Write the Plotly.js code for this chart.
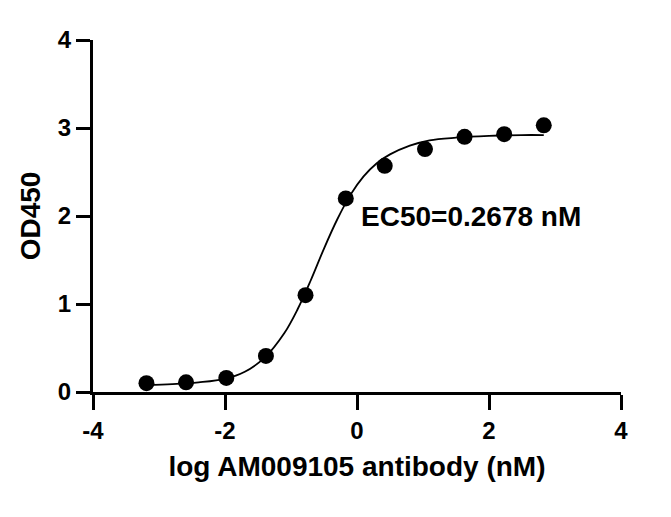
<!DOCTYPE html>
<html>
<head>
<meta charset="utf-8">
<script src="https://cdn.plot.ly/plotly-3.0.1.min.js"></script>
<style>html,body{margin:0;padding:0;background:#fff;}#chart{width:671px;height:517px;}</style>
</head>
<body>
<div id="chart"></div>
<script>
// Measured points: log concentration (nM) vs OD450
var logConc = [-3.19, -2.59, -1.98, -1.38, -0.78, -0.17, 0.42, 1.03, 1.63, 2.23, 2.83];
var od450 = [0.10, 0.11, 0.16, 0.41, 1.10, 2.20, 2.57, 2.76, 2.90, 2.93, 3.03];

// Fitted curve
var curveX = [-3.19, -2.8, -2.4, -2.0, -1.7, -1.4, -1.1, -0.9, -0.7, -0.5, -0.3, -0.1, 0.1, 0.3, 0.5, 0.8, 1.1, 1.5, 2.0, 2.5, 2.83];
var curveY = [0.08, 0.09, 0.11, 0.15, 0.23, 0.39, 0.67, 0.94, 1.27, 1.63, 1.96, 2.24, 2.45, 2.60, 2.70, 2.80, 2.86, 2.89, 2.91, 2.92, 2.92];

var xTicks = [-4, -2, 0, 2, 4];
var yTicks = [0, 1, 2, 3, 4];
var ec50Label = "EC50=0.2678 nM";

var FONT = "Liberation Sans, Arial, sans-serif";

var traces = [
  {x: curveX, y: curveY, mode: "lines", type: "scatter", line: {color: "#000", width: 1.8, shape: "spline"}, hoverinfo: "skip", cliponaxis: false},
  {x: logConc, y: od450, mode: "markers", type: "scatter", marker: {color: "#000", size: 16}, cliponaxis: false}
];

var layout = {
  width: 671, height: 517,
  margin: {l: 93, r: 50, t: 40, b: 125},
  paper_bgcolor: "#fff", plot_bgcolor: "#fff",
  showlegend: false,
  font: {family: FONT, color: "#000", size: 24, weight: "bold"},
  xaxis: {
    range: [-4, 4], tickvals: xTicks, ticktext: xTicks.map(String),
    showgrid: false, zeroline: false, showline: true, linecolor: "#000", linewidth: 3,
    ticks: "outside", ticklen: 15, tickwidth: 3, tickcolor: "#000",
    tickfont: {family: FONT, size: 24, color: "#000", weight: "bold"},
    title: {text: "log AM009105 antibody (nM)", font: {family: FONT, size: 28, color: "#000", weight: "bold"}, standoff: 14},
    fixedrange: true
  },
  yaxis: {
    range: [0, 4], tickvals: yTicks, ticktext: yTicks.map(String),
    showgrid: false, zeroline: false, showline: true, linecolor: "#000", linewidth: 3,
    ticks: "outside", ticklen: 14, tickwidth: 3, tickcolor: "#000",
    tickfont: {family: FONT, size: 24, color: "#000", weight: "bold"},
    title: {text: "OD450", font: {family: FONT, size: 28, color: "#000", weight: "bold"}, standoff: 10},
    fixedrange: true
  },
  annotations: [{
    x: 0.03, y: 2.0, xref: "x", yref: "y", text: ec50Label, showarrow: false,
    xanchor: "left", yanchor: "middle",
    font: {family: FONT, size: 28, color: "#000", weight: "bold"}
  }]
};

Plotly.newPlot("chart", traces, layout, {staticPlot: true, displayModeBar: false});
</script>
</body>
</html>
